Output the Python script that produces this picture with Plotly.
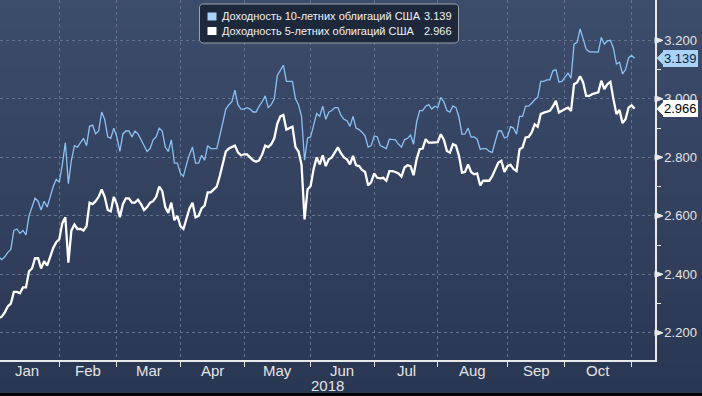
import pandas as pd
import plotly.graph_objects as go

# ---------------- data ----------------
# bond-market trading days 2018 (SIFMA holidays removed)
holidays = ["2018-01-01", "2018-01-15", "2018-02-19", "2018-03-30", "2018-05-28",
            "2018-07-04", "2018-09-03", "2018-10-08", "2018-11-12", "2018-11-22"]
first_day = "2018-01-02"
last_day = "2018-11-01"

# US 10-year Treasury yield, % (daily close)
ust10 = [
    # Jan
    2.46, 2.45, 2.46, 2.475, 2.485, 2.55, 2.555, 2.54, 2.55, 2.535, 2.60, 2.63, 2.66, 2.65, 2.62, 2.65, 2.63, 2.665, 2.70, 2.725, 2.715,
    # Feb
    2.775, 2.85, 2.71, 2.79, 2.84, 2.835, 2.85, 2.865, 2.84, 2.906, 2.91, 2.88, 2.89, 2.955, 2.93, 2.87, 2.865, 2.90, 2.87,
    # Mar
    2.82, 2.88, 2.89, 2.89, 2.87, 2.89, 2.88, 2.86, 2.84, 2.82, 2.83, 2.86, 2.87, 2.90, 2.89, 2.835, 2.82, 2.86, 2.78, 2.78, 2.745,
    # Apr
    2.735, 2.776, 2.81, 2.835, 2.78, 2.78, 2.807, 2.79, 2.84, 2.83, 2.83, 2.83, 2.873, 2.92, 2.965, 2.98, 2.99, 3.03, 2.98, 2.965, 2.965,
    # May
    2.97, 2.965, 2.955, 2.955, 2.975, 2.99, 3.01, 2.97, 2.98, 3.00, 3.08, 3.10, 3.115, 3.06, 3.06, 3.06, 3.00, 2.98, 2.94, 2.79, 2.866, 2.87,
    # Jun
    2.91, 2.95, 2.94, 2.975, 2.93, 2.954, 2.96, 2.97, 2.97, 2.944, 2.93, 2.925, 2.906, 2.94, 2.90, 2.895, 2.886, 2.873, 2.835, 2.84, 2.873,
    # Jul
    2.87, 2.84, 2.835, 2.83, 2.862, 2.86, 2.86, 2.845, 2.835, 2.86, 2.865, 2.876, 2.845, 2.92, 2.96, 2.96, 2.975, 2.98, 2.965, 2.975, 2.97,
    # Aug
    3.005, 2.99, 2.96, 2.955, 2.976, 2.97, 2.937, 2.879, 2.88, 2.90, 2.869, 2.87, 2.862, 2.828, 2.83, 2.83, 2.82, 2.817, 2.856, 2.89, 2.89, 2.866, 2.87,
    # Sep
    2.905, 2.90, 2.879, 2.94, 2.94, 2.975, 2.975, 2.985, 2.997, 3.005, 3.06, 3.06, 3.065, 3.065, 3.096, 3.10, 3.058, 3.06, 3.074,
    # Oct
    3.088, 3.071, 3.187, 3.193, 3.239, 3.205, 3.17, 3.161, 3.16, 3.16, 3.16, 3.21, 3.187, 3.198, 3.20, 3.173, 3.119, 3.125, 3.085, 3.10, 3.14, 3.149,
    # Nov
    3.139,
]

# US 5-year Treasury yield, % (daily close)
ust5 = [
    # Jan
    2.25, 2.255, 2.27, 2.29, 2.30, 2.34, 2.34, 2.335, 2.355, 2.355, 2.41, 2.42, 2.455, 2.455, 2.42, 2.445, 2.43, 2.46, 2.49, 2.51, 2.52,
    # Feb
    2.575, 2.595, 2.44, 2.55, 2.57, 2.555, 2.555, 2.55, 2.565, 2.645, 2.64, 2.65, 2.665, 2.69, 2.665, 2.62, 2.615, 2.665, 2.64,
    # Mar
    2.595, 2.64, 2.66, 2.66, 2.645, 2.645, 2.655, 2.64, 2.62, 2.63, 2.645, 2.65, 2.665, 2.70, 2.685, 2.63, 2.61, 2.645, 2.585, 2.60, 2.565,
    # Apr
    2.555, 2.59, 2.625, 2.645, 2.595, 2.60, 2.625, 2.635, 2.68, 2.68, 2.69, 2.70, 2.736, 2.776, 2.82, 2.83, 2.835, 2.84, 2.817, 2.807, 2.81,
    # May
    2.81, 2.80, 2.79, 2.785, 2.79, 2.81, 2.84, 2.835, 2.845, 2.865, 2.915, 2.94, 2.945, 2.895, 2.90, 2.905, 2.835, 2.82, 2.775, 2.588, 2.691, 2.702,
    # Jun
    2.76, 2.80, 2.776, 2.807, 2.77, 2.793, 2.80, 2.815, 2.834, 2.814, 2.80, 2.793, 2.776, 2.805, 2.773, 2.77, 2.757, 2.75, 2.704, 2.715, 2.745,
    # Jul
    2.73, 2.728, 2.73, 2.72, 2.753, 2.753, 2.75, 2.745, 2.734, 2.765, 2.773, 2.77, 2.739, 2.793, 2.828, 2.83, 2.862, 2.85, 2.85, 2.852, 2.852,
    # Aug
    2.879, 2.86, 2.822, 2.816, 2.845, 2.84, 2.805, 2.748, 2.75, 2.776, 2.75, 2.742, 2.745, 2.704, 2.72, 2.72, 2.72, 2.736, 2.759, 2.782, 2.788, 2.75, 2.77,
    # Sep
    2.775, 2.76, 2.753, 2.828, 2.834, 2.868, 2.87, 2.885, 2.913, 2.905, 2.948, 2.953, 2.955, 2.959, 2.974, 2.993, 2.953, 2.96, 2.965,
    # Oct
    2.97, 2.959, 3.05, 3.056, 3.077, 3.056, 3.01, 3.01, 3.016, 3.02, 3.022, 3.062, 3.033, 3.05, 3.058, 2.999, 2.948, 2.962, 2.917, 2.93, 2.97, 2.978,
    # Nov
    2.966,
]

month_labels = ["Jan", "Feb", "Mar", "Apr", "May", "Jun", "Jul", "Aug", "Sep", "Oct"]
year_label = "2018"
y_major = [2.2, 2.4, 2.6, 2.8, 3.0, 3.2]
y_minor = [2.3, 2.5, 2.7, 2.9, 3.1]
series_names = ["Доходность 10-летних облигаций США", "Доходность 5-летних облигаций США"]

# ---------------- layout constants ----------------
W, H = 702, 396
MR, MB = 47, 36
PW, PH = W - MR, H - MB
Y_RANGE = [2.107, 3.338]
X_RANGE = ["2018-01-03 10:05", "2018-11-13 17:30"]

C10 = "#8cc2f3"
C10_SW = "#a9d3f8"
C5 = "#ffffff"
AXIS = "#e9e9e9"
GRID = "#63728f"
TXT = "#e4e4e4"
BG_TOP = (60, 76, 107)
BG_BOT = (42, 55, 83)


def xp(px):
    return px / PW


def yp(py):
    return 1 - py / PH


def dval(px):
    return px * (Y_RANGE[1] - Y_RANGE[0]) / PH


days = pd.bdate_range(first_day, last_day, freq="C", holidays=holidays)
assert len(days) == len(ust10) == len(ust5), (len(days), len(ust10), len(ust5))
x_close = days + pd.Timedelta(hours=23, minutes=59)

# month boundaries (first trading day of each month) and label centres
month_idx = [i for i in range(len(days)) if i == 0 or days[i].month != days[i - 1].month]
tick_days = [days[i] for i in month_idx]
label_pos = []
for j in range(len(month_labels)):
    mid = (month_idx[j] + month_idx[j + 1]) / 2
    k = int(mid)
    label_pos.append(days[k] + pd.Timedelta(days=mid - k))

fig = go.Figure()
fig.add_trace(go.Scatter(x=x_close, y=ust10, mode="lines", name=series_names[0],
                         line=dict(color=C10, width=1.3), showlegend=False, hoverinfo="skip"))
fig.add_trace(go.Scatter(x=x_close, y=ust5, mode="lines", name=series_names[1],
                         line=dict(color=C5, width=2.3), showlegend=False, hoverinfo="skip"))

shapes = []
# background gradient
NB = 40
bottom_px = 393
for i in range(NB):
    p0 = bottom_px * i / NB
    p1 = bottom_px * (i + 1) / NB + 0.6
    t = (i + 0.5) / NB
    c = tuple(round(BG_TOP[k] + (BG_BOT[k] - BG_TOP[k]) * t) for k in range(3))
    shapes.append(dict(type="rect", xref="paper", yref="paper", x0=0, x1=xp(W),
                       y0=yp(min(p1, bottom_px)), y1=yp(p0), line=dict(width=0),
                       fillcolor="rgb(%d,%d,%d)" % c, layer="below"))
shapes.append(dict(type="rect", xref="paper", yref="paper", x0=0, x1=xp(W),
                   y0=yp(H), y1=yp(bottom_px), line=dict(width=0), fillcolor="#000000", layer="below"))

# right-axis major tick arrows
for v in y_major:
    shapes.append(dict(type="path", xref="paper", yref="y",
                       path="M %f,%f L %f,%f L %f,%f Z" % (xp(PW), v + dval(3), xp(PW + 8), v, xp(PW), v - dval(3)),
                       fillcolor=AXIS, line=dict(color=AXIS, width=1), layer="above"))

# last-value tags
tags = [(ust10[-1], "#a9d3f8", "#0e1f36"), (ust5[-1], "#ffffff", "#000000")]
annotations = []
for v, bg, fg in tags:
    shapes.append(dict(type="path", xref="paper", yref="y",
                       path="M %f,%f L %f,%f L %f,%f Z" % (xp(PW + 2), v, xp(PW + 9), v + dval(7), xp(PW + 9), v - dval(7)),
                       fillcolor=bg, line=dict(color=bg, width=1), layer="above"))
    annotations.append(dict(x=1, xref="paper", y=v, yref="y", xanchor="left", yanchor="middle",
                            xshift=8, text="%.3f" % v, showarrow=False, bgcolor=bg, borderpad=0,
                            bordercolor=bg, borderwidth=1,
                            font=dict(family="Liberation Sans, Arial", size=13, color=fg)))

# legend box
lx0, lx1, ly0, ly1, r = 199.5, 458.5, 4, 43, 4
shapes.append(dict(
    type="path", xref="paper", yref="paper",
    path=("M %f,%f L %f,%f Q %f,%f %f,%f L %f,%f Q %f,%f %f,%f L %f,%f Q %f,%f %f,%f L %f,%f Q %f,%f %f,%f Z" % (
        xp(lx0 + r), yp(ly0), xp(lx1 - r), yp(ly0), xp(lx1), yp(ly0), xp(lx1), yp(ly0 + r),
        xp(lx1), yp(ly1 - r), xp(lx1), yp(ly1), xp(lx1 - r), yp(ly1),
        xp(lx0 + r), yp(ly1), xp(lx0), yp(ly1), xp(lx0), yp(ly1 - r),
        xp(lx0), yp(ly0 + r), xp(lx0), yp(ly0), xp(lx0 + r), yp(ly0))),
    fillcolor="#1e283b", line=dict(color="#9ea3ad", width=1), layer="above"))
legend_rows = [(16.5, C10_SW, series_names[0], ust10[-1]), (31, C5, series_names[1], ust5[-1])]
for cy, col, name, val in legend_rows:
    shapes.append(dict(type="rect", xref="paper", yref="paper", x0=xp(207.5), x1=xp(216.5),
                       y0=yp(cy + 4), y1=yp(cy - 4), fillcolor=col, line=dict(width=0), layer="above"))
    annotations.append(dict(x=xp(219.5), xref="paper", y=yp(cy), yref="paper", xanchor="left",
                            yanchor="middle", text=name, showarrow=False,
                            font=dict(family="Liberation Sans, Arial", size=11, color="#f2f2f2")))
    annotations.append(dict(x=xp(453.5), xref="paper", y=yp(cy), yref="paper", xanchor="right",
                            yanchor="middle", text="%.3f" % val, showarrow=False,
                            font=dict(family="Liberation Sans, Arial", size=11, color="#f2f2f2")))

# month labels and year
for lab, pos in zip(month_labels, label_pos):
    annotations.append(dict(x=pos, xref="x", y=yp(PH + 10.5), yref="paper", xanchor="center",
                            yanchor="middle", text=lab, showarrow=False,
                            font=dict(family="Liberation Sans Narrow, Arial Narrow, Liberation Sans", size=15, color=TXT)))
annotations.append(dict(x=0.5, xref="paper", y=yp(PH + 25.5), yref="paper", xanchor="center",
                        yanchor="middle", text=year_label, showarrow=False,
                        font=dict(family="Liberation Sans Narrow, Arial Narrow, Liberation Sans", size=15, color=TXT)))

fig.update_layout(
    width=W, height=H,
    margin=dict(l=0, r=MR, t=0, b=MB, pad=0, autoexpand=False),
    paper_bgcolor="rgb(%d,%d,%d)" % BG_BOT,
    plot_bgcolor="rgba(0,0,0,0)",
    showlegend=False,
    shapes=shapes,
    annotations=annotations,
    font=dict(family="Liberation Sans, Arial", color=TXT),
    xaxis=dict(
        type="date", range=X_RANGE,
        rangebreaks=[dict(bounds=["sat", "mon"]), dict(values=holidays)],
        tickmode="array", tickvals=tick_days, ticktext=[""] * len(tick_days),
        ticks="outside", ticklen=5, tickwidth=1, tickcolor=AXIS,
        showline=True, linecolor=AXIS, linewidth=1.5,
        showgrid=True, gridcolor=GRID, gridwidth=1, griddash="3px,3px",
        zeroline=False, automargin=False, fixedrange=True,
    ),
    yaxis=dict(
        side="right", range=Y_RANGE,
        tickmode="array", tickvals=y_major, ticktext=["%.3f" % v for v in y_major],
        ticks="outside", ticklen=5, tickcolor="rgba(0,0,0,0)",
        tickfont=dict(family="Liberation Sans, Arial", size=13, color=TXT),
        minor=dict(tickmode="array", tickvals=y_minor, ticks="outside", ticklen=4,
                   tickwidth=1, tickcolor=AXIS, showgrid=False),
        showline=True, linecolor=AXIS, linewidth=1.5,
        showgrid=True, gridcolor=GRID, gridwidth=1, griddash="3px,3px",
        zeroline=False, automargin=False, fixedrange=True,
    ),
)

fig.write_html("out.html", config={"displayModeBar": False},
               post_script="document.body.style.margin='0';document.body.style.overflow='hidden';")
